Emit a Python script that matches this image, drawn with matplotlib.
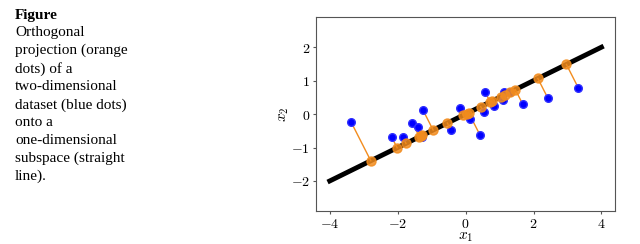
import numpy as np
import matplotlib
matplotlib.use('Agg')
import matplotlib.pyplot as plt

plt.rcParams['mathtext.fontset'] = 'cm'

# data points
x1 = [-3.37, -2.17, -1.85, -1.57, -1.41, -1.29, -1.26, -0.43, -0.17, 0.12,
      0.42, 0.53, 0.58, 0.84, 1.10, 1.12, 1.32, 1.68, 2.42, 3.32]
x2 = [-0.24, -0.70, -0.69, -0.26, -0.38, -0.70, 0.13, -0.48, 0.18, -0.16,
      -0.62, 0.05, 0.65, 0.23, 0.41, 0.66, 0.66, 0.30, 0.48, 0.78]
line_x = [-4, 4]
line_y = [-2, 2]
caption = ("Orthogonal\nprojection (orange\ndots) of a\ntwo-dimensional\n"
           "dataset (blue dots)\nonto a\none-dimensional\nsubspace (straight\nline).")

X = np.array([x1, x2]).T
b = np.array([line_x[1], line_y[1]], dtype=float)
b /= np.linalg.norm(b)
P = (X @ b)[:, None] * b[None, :]

fig = plt.figure(figsize=(6.4, 2.44), dpi=100)
fig.text(15/640, 1 - 9/244, "Figure", fontsize=11, family='Liberation Serif',
         weight='bold', va='top', ha='left')
fig.text(15/640, 1 - 26/244, caption, fontsize=11, family='Liberation Serif',
         va='top', ha='left', linespacing=1.45)

ax = fig.add_axes([0.494, 0.135, 0.467, 0.795])
ax.plot(line_x, line_y, 'k-', lw=3.5, zorder=2)
for (a, c), (p, q) in zip(X, P):
    ax.plot([a, p], [c, q], color='#f28c1e', lw=1, zorder=3)
ax.plot(X[:, 0], X[:, 1], 'o', color='blue', ms=5.5, mec='#3030ff', zorder=4)
ax.plot(P[:, 0], P[:, 1], 'o', color='#f28c1e', ms=6.5, alpha=0.85, zorder=5)

ax.set_xlim(-4.4, 4.4)
ax.set_ylim(-2.9, 2.9)
ax.set_xticks([-4, -2, 0, 2, 4])
ax.set_yticks([-2, -1, 0, 1, 2])
ax.set_xticklabels([r'$-4$', r'$-2$', r'$0$', r'$2$', r'$4$'])
ax.set_yticklabels([r'$-2$', r'$-1$', r'$0$', r'$1$', r'$2$'])
ax.tick_params(labelsize=10, length=2.5, pad=2, color='#555555')
ax.tick_params(axis='x', pad=1.5)
ax.set_xlabel(r'$x_1$', fontsize=11, labelpad=-1)
ax.set_ylabel(r'$x_2$', fontsize=11, labelpad=0)
for s in ax.spines.values():
    s.set_color('#555555')

fig.savefig('out.png', dpi=100)
